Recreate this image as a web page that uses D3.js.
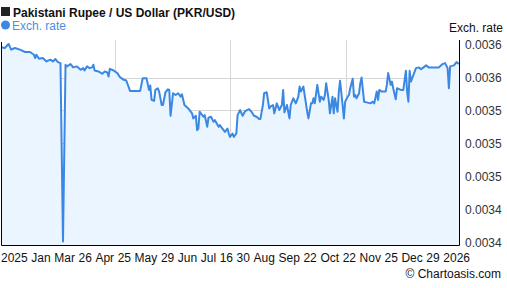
<!DOCTYPE html>
<html>
<head>
<meta charset="utf-8">
<script src="https://cdn.jsdelivr.net/npm/d3@7"></script>
<style>
    body { margin: 0; background: #fff; }
    svg { display: block; font-family: "Liberation Sans", Arial, sans-serif; }
</style>
</head>
<body>
<div id="chart"></div>
<script>
// PKR/USD exchange rate, 2025
const dates = [
    "2025-01-01","2025-01-04","2025-01-07","2025-01-09","2025-01-12","2025-01-16","2025-01-20","2025-01-24","2025-01-27","2025-01-28",
    "2025-01-29","2025-01-31","2025-02-03","2025-02-06","2025-02-09","2025-02-11","2025-02-13","2025-02-15","2025-02-17","2025-02-19",
    "2025-02-21","2025-02-22","2025-02-25","2025-02-27","2025-03-02","2025-03-05","2025-03-07","2025-03-08","2025-03-10","2025-03-12",
    "2025-03-14","2025-03-15","2025-03-16","2025-03-19","2025-03-22","2025-03-24","2025-03-26","2025-03-27","2025-03-28","2025-03-31",
    "2025-04-03","2025-04-05","2025-04-08","2025-04-10","2025-04-13","2025-04-16","2025-04-21","2025-04-23","2025-04-26","2025-04-28",
    "2025-04-29","2025-04-30","2025-05-02","2025-05-03","2025-05-05","2025-05-06","2025-05-08","2025-05-09","2025-05-11","2025-05-13",
    "2025-05-14","2025-05-15","2025-05-17","2025-05-19","2025-05-21","2025-05-23","2025-05-24","2025-05-26","2025-05-29","2025-06-01",
    "2025-06-02","2025-06-04","2025-06-05","2025-06-06","2025-06-07","2025-06-10","2025-06-11","2025-06-13","2025-06-14","2025-06-16",
    "2025-06-18","2025-06-19","2025-06-22","2025-06-23","2025-06-25","2025-06-27","2025-06-29","2025-06-30","2025-07-01","2025-07-03",
    "2025-07-04","2025-07-06","2025-07-07","2025-07-09","2025-07-11","2025-07-13","2025-07-16","2025-07-18","2025-07-20","2025-07-22",
    "2025-07-24","2025-07-25","2025-07-27","2025-07-28","2025-07-30","2025-08-01","2025-08-02","2025-08-04","2025-08-05","2025-08-07",
    "2025-08-09","2025-08-11","2025-08-12","2025-08-13","2025-08-15","2025-08-17","2025-08-18","2025-08-20","2025-08-22","2025-08-24",
    "2025-08-25","2025-08-26","2025-08-28","2025-08-30","2025-08-31","2025-09-01","2025-09-03","2025-09-04","2025-09-05","2025-09-06",
    "2025-09-08","2025-09-10","2025-09-11","2025-09-13","2025-09-14","2025-09-15","2025-09-17","2025-09-18","2025-09-20","2025-09-21",
    "2025-09-22","2025-09-24","2025-09-25","2025-09-26","2025-09-28","2025-09-29","2025-09-30","2025-10-02","2025-10-03","2025-10-04",
    "2025-10-06","2025-10-07","2025-10-08","2025-10-09","2025-10-11","2025-10-12","2025-10-13","2025-10-15","2025-10-17","2025-10-20",
    "2025-10-22","2025-10-23","2025-10-25","2025-10-26","2025-10-27","2025-10-29","2025-11-01","2025-11-02","2025-11-03","2025-11-05",
    "2025-11-06","2025-11-07","2025-11-09","2025-11-10","2025-11-13","2025-11-15","2025-11-17","2025-11-18","2025-11-19","2025-11-20",
    "2025-11-21","2025-11-23","2025-11-25","2025-11-27","2025-11-29","2025-12-01","2025-12-03","2025-12-05","2025-12-09","2025-12-13",
    "2025-12-16","2025-12-18","2025-12-20","2025-12-21","2025-12-22","2025-12-25","2025-12-27","2025-12-29"
];
const rates = [
    0.0035875,0.0035868,0.0035905,0.0035853,0.0035868,0.0035853,0.0035832,0.0035832,0.0035807,0.0035777,
    0.0035807,0.0035771,0.0035777,0.0035746,0.0035762,0.0035746,0.0035768,0.0035740,0.0035731,0.0034110,
    0.0035716,0.0035701,0.0035722,0.0035692,0.0035701,0.0035670,0.0035685,0.0035664,0.0035701,0.0035685,
    0.0035692,0.0035716,0.0035664,0.0035655,0.0035634,0.0035655,0.0035646,0.0035609,0.0035679,0.0035664,
    0.0035640,0.0035603,0.0035579,0.0035573,0.0035478,0.0035478,0.0035478,0.0035594,0.0035594,0.0035487,
    0.0035527,0.0035396,0.0035387,0.0035487,0.0035502,0.0035472,0.0035350,0.0035350,0.0035466,0.0035493,
    0.0035487,0.0035252,0.0035457,0.0035441,0.0035457,0.0035426,0.0035448,0.0035350,0.0035319,0.0035274,
    0.0035228,0.0035252,0.0035121,0.0035136,0.0035289,0.0035243,0.0035258,0.0035152,0.0035234,0.0035243,
    0.0035197,0.0035213,0.0035152,0.0035167,0.0035136,0.0035106,0.0035136,0.0035091,0.0035060,0.0035091,
    0.0035060,0.0035091,0.0035258,0.0035304,0.0035252,0.0035295,0.0035313,0.0035289,0.0035252,0.0035243,
    0.0035222,0.0035222,0.0035350,0.0035457,0.0035466,0.0035319,0.0035335,0.0035350,0.0035274,0.0035365,
    0.0035304,0.0035350,0.0035487,0.0035283,0.0035350,0.0035228,0.0035350,0.0035411,0.0035365,0.0035426,
    0.0035518,0.0035472,0.0035518,0.0035365,0.0035289,0.0035228,0.0035365,0.0035365,0.0035411,0.0035365,
    0.0035533,0.0035380,0.0035426,0.0035396,0.0035441,0.0035548,0.0035396,0.0035274,0.0035426,0.0035274,
    0.0035411,0.0035289,0.0035472,0.0035570,0.0035350,0.0035228,0.0035380,0.0035426,0.0035441,0.0035502,
    0.0035588,0.0035426,0.0035441,0.0035411,0.0035457,0.0035548,0.0035600,0.0035380,0.0035374,0.0035365,
    0.0035380,0.0035365,0.0035472,0.0035396,0.0035487,0.0035472,0.0035472,0.0035533,0.0035640,0.0035533,
    0.0035563,0.0035502,0.0035402,0.0035502,0.0035487,0.0035487,0.0035661,0.0035472,0.0035380,0.0035661,
    0.0035563,0.0035624,0.0035685,0.0035692,0.0035676,0.0035692,0.0035710,0.0035692,0.0035692,0.0035692,
    0.0035722,0.0035731,0.0035685,0.0035502,0.0035701,0.0035710,0.0035740,0.0035722
];
const yTicks = [0.00341, 0.00344, 0.00347, 0.00350, 0.00353, 0.00356, 0.00359];
const xLabels = ["2025", "Jan", "Mar", "26", "Apr", "25", "May", "29", "Jun", "Jul", "16", "30",
                 "Aug", "Sep", "22", "Oct", "22", "Nov", "25", "Dec", "29", "2026"];
const gridDates = ["2025-04-01", "2025-07-01", "2025-10-01"];
const domainDates = ["2025-01-01", "2025-12-29"];

const width = 507, height = 288;
const plot = {left: 1, right: 459, top: 40, bottom: 245};
const lineColor = "#3b88e3";

let parse = d3.timeParse("%Y-%m-%d");
let series = dates.map((d, i) => ({date: parse(d), value: rates[i]}));

let svg = d3.select("#chart")
    .append("svg")
    .attr("width", width)
    .attr("height", height);

// scales
let x = d3.scaleTime()
    .domain(domainDates.map(parse))
    .range([plot.left, plot.right]);
let y = d3.scaleLinear()
    .domain([yTicks[0], yTicks[yTicks.length - 1]])
    .range([242.5, 44.5]);

// gridlines (behind the area), top tick has none
svg.append("g")
    .attr("class", "grid")
    .selectAll("line")
    .data(yTicks.slice(0, -1))
    .enter().append("line")
    .attr("x1", plot.left).attr("x2", plot.right)
    .attr("y1", d => Math.round(y(d)) + 0.5)
    .attr("y2", d => Math.round(y(d)) + 0.5)
    .style("stroke", "#d6d6d6");
svg.append("g")
    .selectAll("line")
    .data(gridDates.map(parse))
    .enter().append("line")
    .attr("x1", d => Math.round(x(d)) + 0.5)
    .attr("x2", d => Math.round(x(d)) + 0.5)
    .attr("y1", plot.top).attr("y2", plot.bottom)
    .style("stroke", "#d6d6d6");

// area + line
let area = d3.area()
    .x(d => x(d.date))
    .y0(plot.bottom)
    .y1(d => y(d.value));
let line = d3.line()
    .x(d => x(d.date))
    .y(d => y(d.value));

svg.append("path")
    .datum(series)
    .attr("d", area)
    .style("fill", "#eaf5ff");
svg.append("path")
    .datum(series)
    .attr("d", line)
    .style("fill", "none")
    .style("stroke", lineColor)
    .style("stroke-width", 2)
    .style("stroke-linejoin", "round");

// frame: left, bottom, right
svg.append("path")
    .attr("d", `M${plot.left + 0.5},${plot.top + 2}V${plot.bottom + 0.5}H${plot.right + 0.5}V${plot.top}`)
    .style("fill", "none")
    .style("stroke", "#000")
    .style("stroke-width", 1);

// Y tick labels on the right
svg.append("g")
    .selectAll("text")
    .data(yTicks)
    .enter().append("text")
    .attr("x", 465)
    .attr("y", d => y(d))
    .attr("dy", "0.36em")
    .style("font-size", "12px")
    .style("fill", "#333")
    .text(d => d3.format(".4f")(d));

svg.append("text")
    .attr("x", 503)
    .attr("y", 31.5)
    .attr("text-anchor", "end")
    .style("font-size", "12px")
    .style("fill", "#111")
    .text("Exch. rate");

// X labels laid out in a row
let xg = svg.append("g");
let xt = xg.selectAll("text")
    .data(xLabels)
    .enter().append("text")
    .attr("y", 261.5)
    .style("font-size", "12px")
    .style("fill", "#111")
    .text(d => d);
let widths = [];
xt.each(function() { widths.push(this.getComputedTextLength()); });
let gap = (470 - 1 - d3.sum(widths)) / (xLabels.length - 1);
let pos = 1;
xt.attr("x", (d, i) => { let p = pos; pos += widths[i] + gap; return p; });

// title + legend
svg.append("rect")
    .attr("x", 1).attr("y", 7)
    .attr("width", 9).attr("height", 9)
    .style("fill", "#222");
svg.append("text")
    .attr("x", 13).attr("y", 16.5)
    .style("font-size", "12px")
    .style("font-weight", "bold")
    .style("fill", "#111")
    .text("Pakistani Rupee / US Dollar (PKR/USD)");
svg.append("circle")
    .attr("cx", 5.5).attr("cy", 25)
    .attr("r", 4.5)
    .style("fill", lineColor);
svg.append("text")
    .attr("x", 12).attr("y", 29.5)
    .style("font-size", "12px")
    .style("fill", "#4a90e2")
    .text("Exch. rate");

// credit
svg.append("text")
    .attr("x", 501).attr("y", 277.5)
    .attr("text-anchor", "end")
    .style("font-size", "12px")
    .style("fill", "#111")
    .text("\u00A9 Chartoasis.com");
</script>
</body>
</html>
